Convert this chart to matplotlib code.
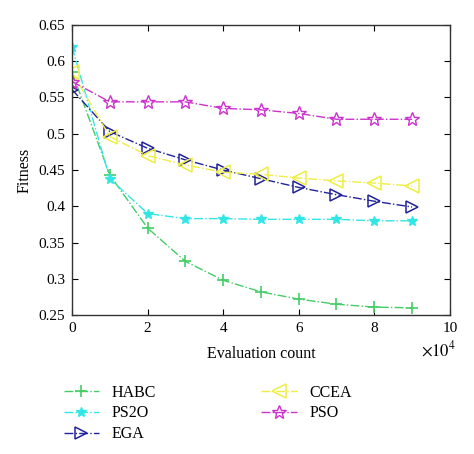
import matplotlib

matplotlib.use("Agg")
import matplotlib.pyplot as plt

plt.rcParams["font.family"] = ["Liberation Serif", "DejaVu Serif"]
plt.rcParams["mathtext.fontset"] = "stix"

# evaluation count in units of 1e4
evals = [0, 1, 2, 3, 4, 5, 6, 7, 8, 9]

habc = [0.585, 0.443, 0.370, 0.324, 0.298, 0.282, 0.272, 0.265, 0.261, 0.260]
ps2o = [0.620, 0.438, 0.390, 0.383, 0.383, 0.382, 0.382, 0.382, 0.380, 0.380]
ega = [0.561, 0.503, 0.480, 0.464, 0.450, 0.438, 0.426, 0.416, 0.407, 0.399]
ccea = [0.585, 0.496, 0.470, 0.457, 0.447, 0.444, 0.439, 0.435, 0.432, 0.428]
pso = [0.572, 0.544, 0.544, 0.544, 0.535, 0.533, 0.528, 0.520, 0.520, 0.520]

fig = plt.figure(figsize=(4.74, 4.54), dpi=100)
ax = fig.add_axes([0.152, 0.306, 0.797, 0.639])

ax.plot(evals, habc, "-.", color="#44cc66", marker="+", ms=9, mew=1.2, lw=1, label="HABC")
ax.plot(evals, ps2o, "-.", color="#33e6e6", marker="*", ms=7.5, mew=1, lw=1, label="PS2O")
ax.plot(evals, ega, "-.", color="#22229a", marker=">", ms=9, mfc="none", mew=1.1, lw=1, label="EGA")
ax.plot(evals, ccea, "-.", color="#eeee44", marker="<", ms=10, mfc="none", mew=1.1, lw=1, label="CCEA")
ax.plot(evals, pso, "-.", color="#cc33cc", marker="*", ms=10, mfc="none", mew=1, lw=1, label="PSO")

ax.set_xlim(0, 10)
ax.set_ylim(0.25, 0.65)
ax.set_xticks([0, 2, 4, 6, 8, 10])
ax.set_yticks([0.25, 0.3, 0.35, 0.4, 0.45, 0.5, 0.55, 0.6, 0.65])
ax.set_yticklabels(["0.25", "0.3", "0.35", "0.4", "0.45", "0.5", "0.55", "0.6", "0.65"])
ax.tick_params(direction="in", top=True, right=True, labelsize=11, length=4, pad=5)
for s in ax.spines.values():
    s.set_linewidth(1)
    s.set_color("#333333")

ax.set_xlabel("Evaluation count", fontsize=11.5, labelpad=8)
ax.set_ylabel("Fitness", fontsize=11.5, labelpad=4)
fig.text(0.962, 0.216, r"$\times10^4$", ha="right", fontsize=12)

ax.legend(loc="upper left", bbox_to_anchor=(-0.06, -0.19), ncol=2, frameon=False,
          fontsize=11.5, handlelength=2.2, columnspacing=6.6, labelspacing=0.3)

fig.savefig("out.png", dpi=100)
